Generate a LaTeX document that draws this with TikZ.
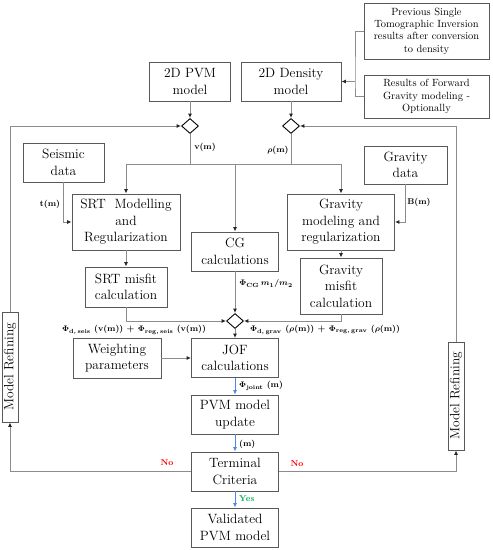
\documentclass[tikz,border=0pt]{standalone}
\usepackage{amsmath}
\usepackage{graphicx}
\usetikzlibrary{calc,arrows.meta,shapes.geometric}
\tikzset {>={Latex[length=4.5pt,width=4pt,color=black!85]}}
\definecolor{boxgray}{HTML}{595959}
\definecolor{linegray}{HTML}{8C8C8C}
\definecolor{flowblue}{HTML}{4A8BDB}
\definecolor{yesgreen}{HTML}{00B050}
\tikzset{
  box/.style={draw=boxgray,line width=.9bp,inner sep=0pt,align=center,
    font=\fontsize{13.5}{16.5}\selectfont},
  smallbox/.style={box,font=\fontsize{10.5}{12.4}\selectfont},
  joint/.style={draw=black,diamond,inner sep=0pt,minimum width=17bp,
    minimum height=15bp,line width=.9bp},
  lbl/.style={inner sep=1pt,font=\fontsize{8.5}{10}\selectfont\bfseries\boldmath},
  conn/.style={draw=linegray,line width=.9bp},
  flow/.style={draw=flowblue,line width=.9bp,-{Latex[length=4.5pt,width=4pt,color=flowblue]}}}

\begin{document}
\begin{tikzpicture}[x=1bp,y=-1bp]
\useasboundingbox (0,0) rectangle (493,550);
\node[box,minimum width=81bp,minimum height=39bp] (pvm) at (190,81.5) {2D PVM\\model};
\node[box,minimum width=100bp,minimum height=39bp] (dens) at (291,81.5) {2D Density\\model};
\node[smallbox,minimum width=125bp,minimum height=56bp] (prev) at (426.5,31)
  {Previous Single\\Tomographic Inversion\\results after conversion\\to density};
\node[smallbox,minimum width=125bp,minimum height=43bp] (fwd) at (426.5,96.5)
  {Results of Forward\\Gravity modeling -\\Optionally};
\foreach \n/\x in {jpvm/190,jdens/291}
  \node[joint] (\n) at (\x,126) {};
\node[box,minimum width=81bp,minimum height=39bp] (seis) at (63.5,162.5) {Seismic\\data};
\node[box,minimum width=83bp,minimum height=38bp] (gdat) at (405.5,165) {Gravity\\data};
\node[box,minimum width=108bp,minimum height=56bp] (srt) at (126,222)
  {SRT~ Modelling\\and\\Regularization};
\node[box,minimum width=107bp,minimum height=56bp] (gmod) at (341,222)
  {Gravity\\modeling and\\regularization};
\node[box,minimum width=87bp,minimum height=39bp] (cg) at (235,251.5) {CG\\calculations};
\node[box,minimum width=82bp,minimum height=40bp] (srtmis) at (126,287) {SRT misfit\\calculation};
\node[box,minimum width=82bp,minimum height=56bp] (gmis) at (341,286) {Gravity\\misfit\\calculation};
\node[joint] (jmain) at (235,321) {};
\node[box,minimum width=88bp,minimum height=40bp] (weight) at (117,358) {Weighting\\parameters};
\foreach \n/\y/\t in {jof/358/{JOF\\calculations},upd/414.5/{PVM model\\update},
    term/471.5/{Terminal\\Criteria},valid/527.5/{Validated\\PVM model}}
  \node[box,minimum width=87bp,minimum height=39bp] (\n) at (235,\y) {\t};
\node[box,minimum width=16bp,minimum height=110bp] (refL) at (10,367) {\rotatebox{90}{Model Refining}};
\node[box,minimum width=16bp,minimum height=108bp] (refR) at (456,396) {\rotatebox{90}{Model Refining}};

\coordinate (brk) at (355,81.5);
\draw[conn] (prev.west) -| (brk) |- (fwd.west);
\draw[conn,->] (brk) -- (dens.east);
\foreach \a/\b in {pvm/jpvm,dens/jdens,srt/srtmis,gmod/gmis,cg/jmain,jmain/jof}
  \draw[conn,->] (\a.south) -- (\b.north);
\coordinate (split) at (235,164);
\draw[conn] (jpvm.south) -- (jpvm.south |- split);
\draw[conn] (jdens.south) -- (jdens.south |- split);
\draw[conn] (srt.north |- split) -- (gmod.north |- split);
\foreach \n in {srt,cg,gmod}
  \draw[conn,->] (\n.north |- split) -- (\n.north);
\draw[conn,->] (seis.south) |- (srt.west);
\draw[conn,->] (gdat.south) |- (gmod.east);
\draw[conn,->] (srtmis.south) |- (jmain.west);
\draw[conn,->] (gmis.south) |- (jmain.east);
\draw[conn,->] (weight.east) -- (jof.west);
\foreach \a/\b in {jof/upd,upd/term,term/valid}
  \draw[flow] (\a.south) -- (\b.north);
\draw[conn,->] (term.west) -| (refL.south);
\draw[conn,->] (term.east) -| (refR.south);
\draw[conn,->] (refL.north) |- (jpvm.west);
\draw[conn,->] (refR.north) |- (jdens.east);

\node[lbl] (vm) at (205,147) {v(m)};
\node[lbl] (rhom) at (278,150) {$\rho$(m)};
\node[lbl] (tm) at (50,204) {t(m)};
\node[lbl] (bm) at (419,202) {B(m)};
\node[lbl] (phicg) at (266,284) {$\Phi_{\mathrm{CG}}\,m_1/m_2$};
\node[lbl] (phiseis) at (134,330)
  {$\Phi_{\mathrm{d,\,seis}}$ (v(m)) + $\Phi_{\mathrm{reg,\,seis}}$ (v(m))};
\node[lbl] (phigrav) at (325,330)
  {$\Phi_{\mathrm{d,\,grav}}$ ($\rho$(m)) + $\Phi_{\mathrm{reg,\,grav}}$ ($\rho$(m))};
\node[lbl,anchor=west] (phijoint) at (238,386) {$\Phi_{\mathrm{joint}}$ (m)};
\node[lbl,anchor=west] (mm) at (238,444) {(m)};
\node[lbl,anchor=west,text=yesgreen] (yes) at (238,499) {Yes};
\node[lbl,text=red] (noL) at (167,463) {No};
\node[lbl,text=red] (noR) at (297,464) {No};
\end{tikzpicture}
\end{document}
